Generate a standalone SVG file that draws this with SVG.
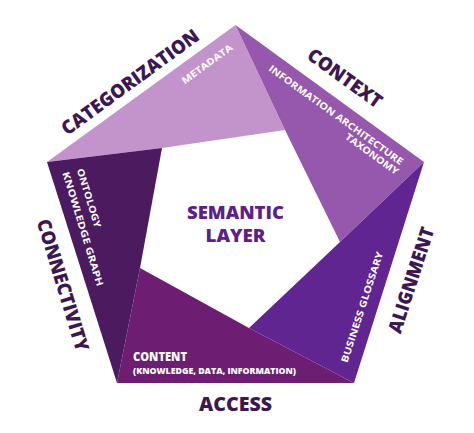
<svg xmlns="http://www.w3.org/2000/svg" width="474" height="433" viewBox="0 0 474 433">
<style>
.t{font-family:"Open Sans","Liberation Sans",sans-serif;font-weight:800;text-anchor:middle}
.o{fill:#3b1852;font-size:19px}
.i{fill:#ffffff;font-size:9.5px;font-weight:700}
.s{text-anchor:start}
</style>
<rect width="474" height="433" fill="#ffffff"/>
<g id="metadata">
<polygon points="47,162 235.5,25 285,130 162,148" fill="#c394cb"/>
<text class="t i" transform="translate(207,64) rotate(-36)" y="3.4" textLength="60" lengthAdjust="spacingAndGlyphs">METADATA</text>
</g>
<g id="context">
<polygon points="235.5,25 424,162 340,242 285,130" fill="#9658ad"/>
<text class="t i" transform="translate(336,115) rotate(35.8)" y="3.4" textLength="163" lengthAdjust="spacingAndGlyphs">INFORMATION ARCHITECTURE</text>
<text class="t i" transform="translate(372,154) rotate(35.8)" y="3.4" textLength="63" lengthAdjust="spacingAndGlyphs">TAXONOMY</text>
</g>
<g id="alignment">
<polygon points="424,162 354,383 249,328 340,242" fill="#612592"/>
<text class="t i" transform="translate(362,307) rotate(-72)" y="3.4" textLength="116" lengthAdjust="spacingAndGlyphs">BUSINESS GLOSSARY</text>
</g>
<g id="access">
<polygon points="354,383 117,383 140,268 249,328" fill="#6d1e72"/>
<text class="t s" x="133" y="361" fill="#ffffff" font-size="11.5" textLength="54" lengthAdjust="spacingAndGlyphs">CONTENT</text>
<text class="t s" x="133" y="374" fill="#ffffff" font-size="8" textLength="163" lengthAdjust="spacingAndGlyphs">(KNOWLEDGE, DATA, INFORMATION)</text>
</g>
<g id="connectivity">
<polygon points="117,383 47,162 162,148 140,268" fill="#4c1b5f"/>
<text class="t i" transform="translate(89,198) rotate(73)" y="3.4" textLength="61" lengthAdjust="spacingAndGlyphs">ONTOLOGY</text>
<text class="t i" transform="translate(83,229) rotate(73)" y="3.4" textLength="119" lengthAdjust="spacingAndGlyphs">KNOWLEDGE GRAPH</text>
</g>
<g id="semantic-layer">
<text class="t" x="235.5" y="219" fill="#5b2189" font-size="17.5" textLength="97" lengthAdjust="spacingAndGlyphs">SEMANTIC</text>
<text class="t" x="235.5" y="242" fill="#5b2189" font-size="17.5" textLength="60" lengthAdjust="spacingAndGlyphs">LAYER</text>
</g>
<g id="outer-labels">
<text class="t o" transform="translate(130,82) rotate(-36)" y="6.8" textLength="165" lengthAdjust="spacingAndGlyphs">CATEGORIZATION</text>
<text class="t o" transform="translate(345,78) rotate(35.8)" y="6.8" textLength="87" lengthAdjust="spacingAndGlyphs">CONTEXT</text>
<text class="t o" transform="translate(411,280) rotate(-72)" y="6.8" textLength="110" lengthAdjust="spacingAndGlyphs">ALIGNMENT</text>
<text class="t o" x="235.5" y="410.5" font-size="18" textLength="73" lengthAdjust="spacingAndGlyphs">ACCESS</text>
<text class="t o" transform="translate(63,285) rotate(73)" y="6.8" textLength="137" lengthAdjust="spacingAndGlyphs">CONNECTIVITY</text>
</g>
<g id="connectors"></g>
</svg>
